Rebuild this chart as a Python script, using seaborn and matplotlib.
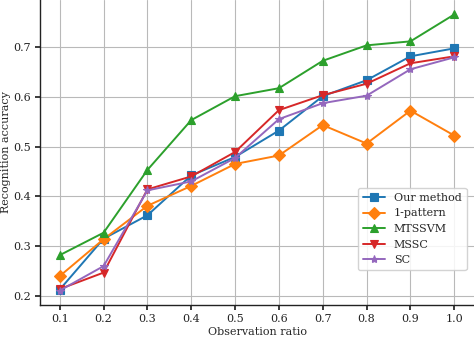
import matplotlib
matplotlib.use("Agg")
import matplotlib.pyplot as plt
import seaborn as sns
import pandas as pd

ratios = [0.1, 0.2, 0.3, 0.4, 0.5, 0.6, 0.7, 0.8, 0.9, 1.0]
our_method = [0.213, 0.315, 0.362, 0.442, 0.479, 0.532, 0.601, 0.633, 0.681, 0.697]
one_pattern = [0.240, 0.314, 0.381, 0.421, 0.465, 0.482, 0.543, 0.506, 0.572, 0.522]
mtssvm = [0.282, 0.327, 0.453, 0.553, 0.601, 0.617, 0.672, 0.703, 0.711, 0.765]
mssc = [0.214, 0.247, 0.414, 0.440, 0.489, 0.573, 0.603, 0.626, 0.667, 0.681]
sc = [0.211, 0.260, 0.412, 0.430, 0.477, 0.555, 0.587, 0.602, 0.655, 0.679]

methods = ["Our method", "1-pattern", "MTSSVM", "MSSC", "SC"]
series = [our_method, one_pattern, mtssvm, mssc, sc]
markers = ["s", "D", "^", "v", "*"]
colors = ["#1f77b4", "#ff7f0e", "#2ca02c", "#d62728", "#9467bd"]

rows = []
for m, vals in zip(methods, series):
    for r, v in zip(ratios, vals):
        rows.append({"Observation ratio": r, "Recognition accuracy": v, "Method": m})
df = pd.DataFrame(rows)

sns.set_theme(style="whitegrid", rc={
    "grid.color": "#b9b9b9",
    "grid.linewidth": 0.8,
    "axes.edgecolor": "#222222",
    "axes.linewidth": 1.0,
    "xtick.bottom": True,
    "ytick.left": True,
    "xtick.major.size": 3.5,
    "ytick.major.size": 3.5,
    "xtick.color": "#222222",
    "ytick.color": "#222222",
})
plt.rcParams["font.family"] = ["DejaVu Serif"]

FS = 8.0
fig = plt.figure(figsize=(4.74, 3.37), dpi=100)
ax = fig.add_axes([40 / 474, 32 / 337, 434 / 474, 305 / 337])

sns.lineplot(data=df, x="Observation ratio", y="Recognition accuracy", hue="Method",
             style="Method", hue_order=methods, style_order=methods,
             markers=dict(zip(methods, markers)), dashes=False,
             palette=dict(zip(methods, colors)), markersize=6, linewidth=1.4,
             ax=ax)

for line in ax.get_lines():
    c = line.get_color()
    line.set_markeredgecolor(c)
    line.set_markerfacecolor(c)
    line.set_markeredgewidth(0.8)

ax.set_xticks(ratios)
ax.set_xticklabels([f"{r:.1f}" for r in ratios])
ax.set_yticks([0.2, 0.3, 0.4, 0.5, 0.6, 0.7])
ax.tick_params(labelsize=FS, pad=3)
ax.set_xlim(0.055, 1.045)
ax.set_ylim(0.182, 0.794)
ax.set_xlabel("Observation ratio", fontsize=FS)
ax.set_ylabel("Recognition accuracy", fontsize=FS)
ax.xaxis.set_label_coords(0.5, -0.072)
ax.yaxis.set_label_coords(-0.066, 0.5)
for s in ["top", "right"]:
    ax.spines[s].set_visible(False)
ax.spines["left"].set_color("#222222")
ax.spines["bottom"].set_color("#222222")

leg = ax.legend(loc="center right", bbox_to_anchor=(0.996, 0.249), fontsize=FS,
                frameon=True, framealpha=0.85, edgecolor="#cccccc", handlelength=2.0,
                borderpad=0.45, labelspacing=0.5)
for h in leg.legend_handles:
    c = h.get_color()
    h.set_markeredgecolor(c)
    h.set_markerfacecolor(c)

fig.savefig("out.png", dpi=100)
